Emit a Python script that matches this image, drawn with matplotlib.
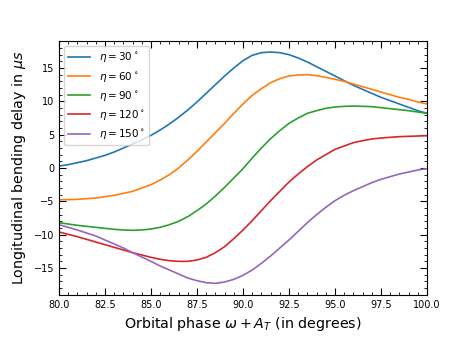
import matplotlib
matplotlib.use("Agg")
import matplotlib.pyplot as plt

phase = [80.0, 80.5, 81.0, 81.5, 82.0, 82.5, 83.0, 83.5, 84.0, 84.5,
         85.0, 85.5, 86.0, 86.5, 87.0, 87.5, 88.0, 88.5, 89.0, 89.5,
         90.0, 90.5, 91.0, 91.5, 92.0, 92.5, 93.0, 93.5, 94.0, 94.5,
         95.0, 95.5, 96.0, 96.5, 97.0, 97.5, 98.0, 98.5, 99.0, 99.5, 100.0]

delay_30 = [0.3, 0.5, 0.8, 1.1, 1.5, 1.9, 2.4, 3.0, 3.6, 4.2,
            4.9, 5.7, 6.6, 7.6, 8.7, 9.9, 11.2, 12.5, 13.8, 15.0,
            16.1, 16.9, 17.3, 17.4, 17.3, 17.0, 16.5, 15.9, 15.2, 14.5,
            13.8, 13.1, 12.4, 11.8, 11.2, 10.6, 10.1, 9.6, 9.1, 8.6, 8.2]
delay_60 = [-4.75, -4.75, -4.7, -4.6, -4.5, -4.3, -4.1, -3.8, -3.5, -3.0,
            -2.5, -1.8, -1.0, 0.0, 1.2, 2.5, 3.9, 5.3, 6.7, 8.2,
            9.6, 10.9, 11.9, 12.8, 13.4, 13.8, 13.95, 14.0, 13.85, 13.6,
            13.3, 13.0, 12.6, 12.2, 11.8, 11.4, 11.0, 10.6, 10.3, 9.9, 9.6]
delay_90 = [-8.2, -8.4, -8.6, -8.75, -8.9, -9.05, -9.2, -9.3, -9.35, -9.3,
            -9.15, -8.9, -8.5, -8.0, -7.3, -6.4, -5.4, -4.2, -2.9, -1.5,
            -0.1, 1.5, 3.0, 4.4, 5.6, 6.7, 7.5, 8.2, 8.6, 8.95,
            9.15, 9.25, 9.3, 9.25, 9.2, 9.05, 8.9, 8.75, 8.6, 8.4, 8.2]
delay_120 = [-9.6, -9.95, -10.3, -10.7, -11.1, -11.5, -11.9, -12.3, -12.7, -13.05,
             -13.4, -13.7, -13.9, -14.0, -14.0, -13.8, -13.4, -12.7, -11.8, -10.6,
             -9.3, -7.9, -6.4, -4.9, -3.5, -2.1, -0.9, 0.2, 1.2, 2.0,
             2.8, 3.3, 3.8, 4.1, 4.35, 4.5, 4.6, 4.7, 4.75, 4.8, 4.85]
delay_150 = [-8.5, -8.9, -9.3, -9.75, -10.2, -10.8, -11.4, -12.0, -12.7, -13.35,
             -14.0, -14.7, -15.3, -15.9, -16.5, -16.9, -17.2, -17.3, -17.1, -16.7,
             -16.1, -15.3, -14.3, -13.2, -12.0, -10.8, -9.5, -8.2, -7.0, -5.9,
             -4.9, -4.1, -3.4, -2.8, -2.2, -1.7, -1.3, -0.9, -0.6, -0.3, -0.1]

etas = [30, 60, 90, 120, 150]
series = [delay_30, delay_60, delay_90, delay_120, delay_150]

fig = plt.figure(figsize=(4.74, 3.38), dpi=100)
ax = fig.add_axes([0.1245, 0.1272, 0.7763, 0.7515])

for eta, d in zip(etas, series):
    ax.plot(phase, d, lw=1.2, label=r"$\eta = %d^\circ$" % eta)

ax.set_xlim(80, 100)
ax.set_ylim(-19.05, 19.05)
ax.minorticks_on()
ax.tick_params(which="both", direction="in", top=True, right=True, labelsize=7)
ax.tick_params(which="major", length=5)
ax.tick_params(which="minor", length=2.5)
ax.set_xticks([80, 82.5, 85, 87.5, 90, 92.5, 95, 97.5, 100])
ax.set_xticklabels(["80.0", "82.5", "85.0", "87.5", "90.0", "92.5", "95.0", "97.5", "100.0"])
ax.set_xlabel(r"Orbital phase $\omega + A_T$ (in degrees)", fontsize=10.3)
ax.set_ylabel(r"Longitudinal bending delay in $\mu s$", fontsize=10.3)
ax.legend(loc="upper left", fontsize=7.5, handlelength=2.1, labelspacing=0.5)

fig.savefig("out.png", dpi=100)
